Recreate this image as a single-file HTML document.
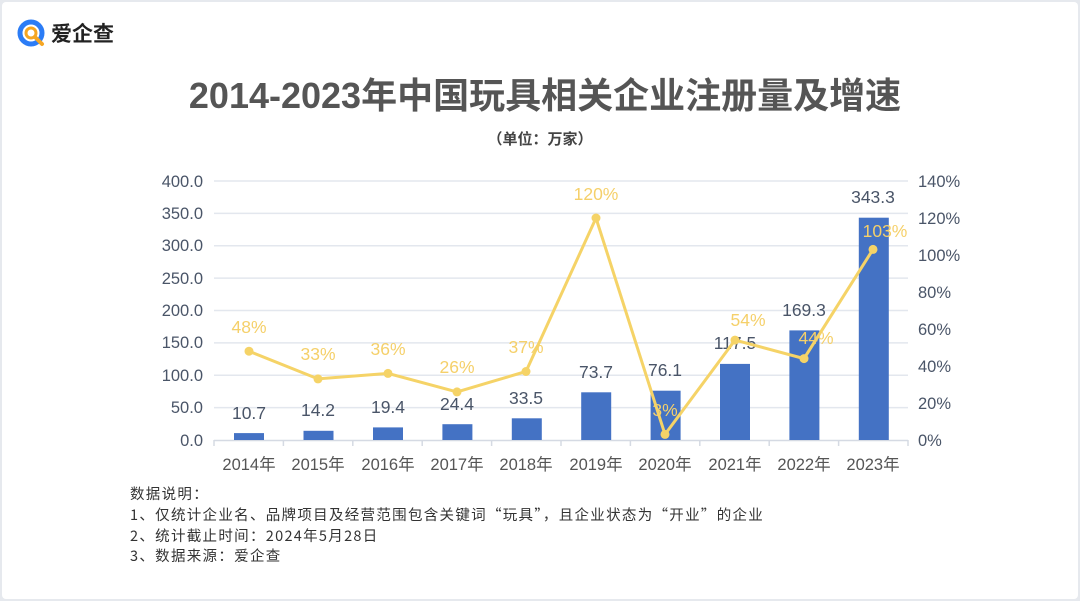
<!DOCTYPE html>
<html><head><meta charset="utf-8"><style>
html,body{margin:0;padding:0;background:#e6e9ee;}
body{width:1080px;height:601px;overflow:hidden;font-family:"Liberation Sans","Noto Sans CJK SC",sans-serif;}
</style></head><body>
<svg width="1080" height="601" xmlns="http://www.w3.org/2000/svg" style="display:block">
<rect x="2" y="2" width="1076" height="597" rx="4" fill="#fff"/>
<circle cx="31" cy="33" r="11" fill="none" stroke="#2b7cf6" stroke-width="5"/>
<circle cx="31" cy="33" r="5" fill="none" stroke="#f5a623" stroke-width="3"/>
<line x1="35" y1="37" x2="42" y2="44" stroke="#f5a623" stroke-width="4" stroke-linecap="round"/>
<text x="51" y="41" font-size="21" font-weight="bold" fill="#222">爱企查</text>
<text x="545" y="108" text-anchor="middle" font-size="36" font-weight="bold" fill="#555">2014-2023年中国玩具相关企业注册量及增速</text>
<text x="540" y="144" text-anchor="middle" font-size="15" font-weight="bold" fill="#444" font-family="Noto Sans CJK SC,sans-serif">（单位：万家）</text>
<g stroke="#e3e7ee" stroke-width="1.5">
<line x1="214" x2="908" y1="181" y2="181"/><line x1="214" x2="908" y1="213.4" y2="213.4"/>
<line x1="214" x2="908" y1="245.8" y2="245.8"/><line x1="214" x2="908" y1="278.1" y2="278.1"/>
<line x1="214" x2="908" y1="310.5" y2="310.5"/><line x1="214" x2="908" y1="342.9" y2="342.9"/>
<line x1="214" x2="908" y1="375.3" y2="375.3"/><line x1="214" x2="908" y1="407.6" y2="407.6"/>
</g>
<line x1="214" x2="908" y1="440.5" y2="440.5" stroke="#d5dae3" stroke-width="1.5"/>
<g stroke="#d5dae3" stroke-width="1.5">
<line x1="214" x2="214" y1="440" y2="446"/><line x1="283.4" x2="283.4" y1="440" y2="446"/><line x1="352.8" x2="352.8" y1="440" y2="446"/><line x1="422.2" x2="422.2" y1="440" y2="446"/><line x1="491.6" x2="491.6" y1="440" y2="446"/><line x1="561" x2="561" y1="440" y2="446"/><line x1="630.4" x2="630.4" y1="440" y2="446"/><line x1="699.8" x2="699.8" y1="440" y2="446"/><line x1="769.2" x2="769.2" y1="440" y2="446"/><line x1="838.6" x2="838.6" y1="440" y2="446"/><line x1="908" x2="908" y1="440" y2="446"/>
</g>
<g font-size="16.5" fill="#4a5568" text-anchor="end">
<text x="203" y="187">400.0</text><text x="203" y="219">350.0</text><text x="203" y="251">300.0</text><text x="203" y="284">250.0</text><text x="203" y="316">200.0</text><text x="203" y="348">150.0</text><text x="203" y="381">100.0</text><text x="203" y="413">50.0</text><text x="203" y="446">0.0</text>
</g>
<g font-size="16.5" fill="#4a5568" text-anchor="start">
<text x="918" y="187">140%</text><text x="918" y="224">120%</text><text x="918" y="261">100%</text><text x="918" y="298">80%</text><text x="918" y="335">60%</text><text x="918" y="372">40%</text><text x="918" y="409">20%</text><text x="918" y="446">0%</text>
</g>
<g font-size="16.5" fill="#555" text-anchor="middle">
<text x="249" y="470">2014年</text><text x="318" y="470">2015年</text><text x="388" y="470">2016年</text><text x="457" y="470">2017年</text><text x="526" y="470">2018年</text><text x="596" y="470">2019年</text><text x="665" y="470">2020年</text><text x="735" y="470">2021年</text><text x="804" y="470">2022年</text><text x="873" y="470">2023年</text>
</g>
<g fill="#4472c4">
<rect x="234" y="433.1" width="30" height="6.9"/>
<rect x="303.5" y="430.8" width="30" height="9.2"/>
<rect x="373" y="427.4" width="30" height="12.6"/>
<rect x="442.4" y="424.2" width="30" height="15.8"/>
<rect x="511.8" y="418.3" width="30" height="21.7"/>
<rect x="581.2" y="392.3" width="30" height="47.7"/>
<rect x="650.6" y="390.7" width="30" height="49.3"/>
<rect x="720" y="363.9" width="30" height="76.1"/>
<rect x="789.4" y="330.4" width="30" height="109.6"/>
<rect x="858.8" y="217.7" width="30" height="222.3"/>
</g>
<g font-size="17.5" fill="#4a5568" text-anchor="middle">
<text x="249" y="419">10.7</text><text x="318" y="416">14.2</text><text x="388" y="413">19.4</text><text x="457" y="410">24.4</text><text x="526" y="404">33.5</text><text x="596" y="378">73.7</text><text x="665" y="376">76.1</text><text x="735" y="349">117.5</text><text x="804" y="316">169.3</text><text x="873" y="203">343.3</text>
</g>
<polyline fill="none" stroke="#f5d367" stroke-width="3" points="249,351.2 318,378.9 388,373.4 457,391.9 526,371.5 596,218 665,434.4 735,340.1 804,358.6 873,249.4"/>
<g fill="#f5d367">
<circle cx="249" cy="351.2" r="4.5"/><circle cx="318" cy="378.9" r="4.5"/><circle cx="388" cy="373.4" r="4.5"/><circle cx="457" cy="391.9" r="4.5"/><circle cx="526" cy="371.5" r="4.5"/><circle cx="596" cy="218" r="4.5"/><circle cx="665" cy="434.4" r="4.5"/><circle cx="735" cy="340.1" r="4.5"/><circle cx="804" cy="358.6" r="4.5"/><circle cx="873" cy="249.4" r="4.5"/>
</g>
<g font-size="17.5" fill="#f5d06a" text-anchor="middle">
<text x="249" y="333">48%</text><text x="318" y="360">33%</text><text x="388" y="355">36%</text><text x="457" y="373">26%</text><text x="526" y="353">37%</text><text x="596" y="200">120%</text><text x="665" y="416">3%</text><text x="748" y="326">54%</text><text x="816" y="344">44%</text><text x="885" y="237">103%</text>
</g>
<g font-size="14.5" fill="#333" font-family="Noto Sans CJK SC,sans-serif" letter-spacing="1.3">
<text x="130" y="499">数据说明：</text>
<text x="130" y="520">1、仅统计企业名、品牌项目及经营范围包含关键词“玩具”，且企业状态为“开业”的企业</text>
<text x="130" y="541">2、统计截止时间：2024年5月28日</text>
<text x="130" y="561">3、数据来源：爱企查</text>
</g>
</svg>
</body></html>
